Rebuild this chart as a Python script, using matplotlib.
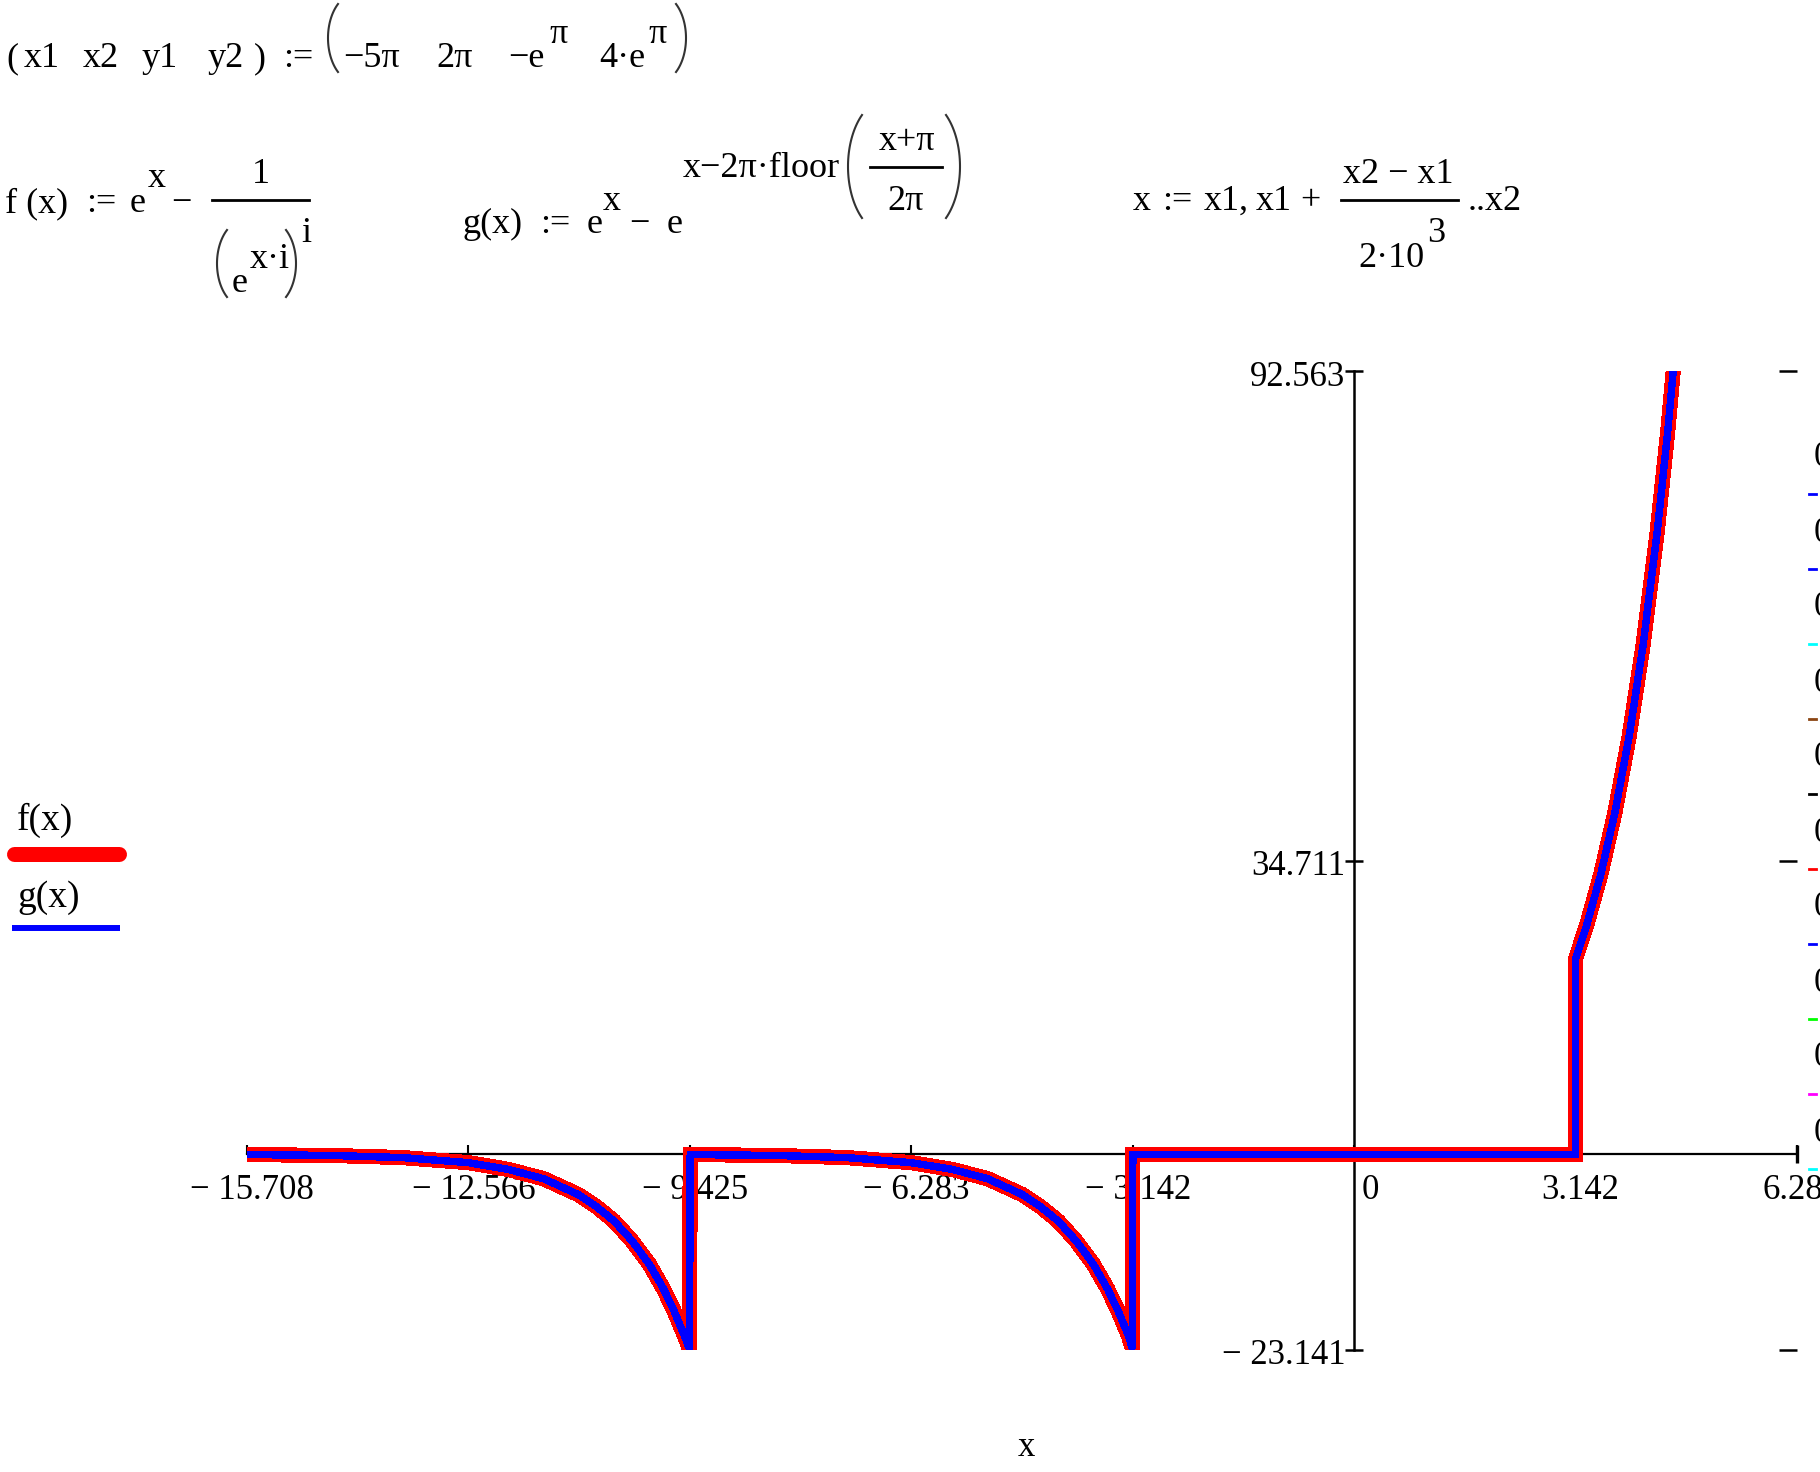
import numpy as np
import matplotlib
matplotlib.use("Agg")
import matplotlib.pyplot as plt

FONT = ["Liberation Serif", "DejaVu Serif"]
plt.rcParams["font.family"] = FONT

# plot window
x1, x2 = -15.708, 6.283
y1, y2 = -23.141, 92.563

x_ticks = [-15.708, -12.566, -9.425, -6.283, -3.142, 0.0, 3.142, 6.283]
x_tick_labels = ["\u2212 15.708", "\u2212 12.566", "\u2212 9.425", "\u2212 6.283",
                 "\u2212 3.142", "0", "3.142", "6.283"]
y_ticks = [92.563, 34.711, -23.141]
y_tick_labels = ["92.563", "34.711", "\u2212 23.141"]

# points (f and g sit on top of each other)
x_pts = [-15.708, -14.5, -13.5, -12.566, -12.0, -11.5, -11.0, -10.75, -10.5, -10.25,
         -10.0, -9.8, -9.65, -9.5, -9.43,
         -9.42, -8.2, -7.2, -6.283, -5.7, -5.2, -4.7, -4.45, -4.2, -3.95,
         -3.7, -3.5, -3.35, -3.2, -3.147,
         -3.14, 0.0, 3.14,
         3.142, 3.3, 3.5, 3.7, 3.9, 4.1, 4.3, 4.45, 4.6]
f_pts = [-0.04, -0.15, -0.4, -1.0, -1.8, -2.9, -4.8, -6.2, -7.9, -10.2,
         -13.0, -15.9, -18.5, -21.5, -23.0,
         -0.04, -0.15, -0.4, -1.0, -1.8, -2.9, -4.8, -6.2, -7.9, -10.2,
         -13.0, -15.9, -18.5, -21.5, -23.0,
         0.0, 0.0, 0.0,
         23.1, 27.1, 33.1, 40.4, 49.3, 60.2, 73.6, 85.5, 99.3]
g_pts = [-0.04, -0.15, -0.4, -1.0, -1.8, -2.9, -4.8, -6.2, -7.9, -10.2,
         -13.0, -15.9, -18.5, -21.5, -23.0,
         -0.04, -0.15, -0.4, -1.0, -1.8, -2.9, -4.8, -6.2, -7.9, -10.2,
         -13.0, -15.9, -18.5, -21.5, -23.0,
         0.0, 0.0, 0.0,
         23.1, 27.1, 33.1, 40.4, 49.3, 60.2, 73.6, 85.5, 99.3]

legend_labels = ["f(x)", "g(x)"]
# little coloured trace marks cut off at the right edge
edge_colors = ["#0000ff", "#0000ff", "#00ffff", "#8b4513", "#000000",
               "#ff0000", "#0000ff", "#00ff00", "#ff00ff", "#00ffff"]

W, H = 1820, 1472
fig = plt.figure(figsize=(W / 100, H / 100), dpi=100)

# ---- main plot ----
ax = fig.add_axes([247 / W, 122 / H, 1550 / W, 979 / H])
ax.set_xlim(x1, x2)
ax.set_ylim(y1, y2)
ax.axis("off")

ax.plot([x1, x2], [0, 0], color="k", lw=1.6, zorder=2, clip_on=False)
ax.plot([0, 0], [y1, y2], color="k", lw=1.8, zorder=2, clip_on=False)
ax.plot(x_ticks, [0] * len(x_ticks), ls="none", marker=2, ms=6.5, mew=1.5,
        color="k", clip_on=False, zorder=2)
ax.plot([x2], [0], ls="none", marker="|", ms=13, mew=2.4, color="k", clip_on=False)
ax.plot([0] * len(y_ticks), y_ticks, ls="none", marker="_", ms=13, mew=1.8,
        color="k", clip_on=False)
ax.plot([x2] * len(y_ticks), y_ticks, ls="none", marker=0, ms=13, mew=1.8,
        color="k", clip_on=False)

for xv, lab in zip(x_ticks, x_tick_labels):
    if xv == 0:
        ax.annotate(lab, (xv, 0), xytext=(7, -36), textcoords="offset pixels",
                    ha="left", va="center", fontsize=25, zorder=1, annotation_clip=False)
    else:
        ax.annotate(lab, (xv, 0), xytext=(5, -36), textcoords="offset pixels",
                    ha="center", va="center", fontsize=25, zorder=1, annotation_clip=False)
for yv, lab in zip(y_ticks, y_tick_labels):
    ax.annotate(lab, (0, yv), xytext=(-9, -6), textcoords="offset pixels",
                ha="right", va="center", fontsize=25, zorder=1, annotation_clip=False)
ax.annotate("x", (0.5, 0), xycoords="axes fraction", xytext=(4, -97),
            textcoords="offset pixels", ha="center", va="center", fontsize=25)

ax.plot(x_pts, f_pts, color="#ff0000", lw=10.2, solid_joinstyle="miter",
        solid_capstyle="butt", antialiased=False, zorder=3)
ax.plot(x_pts, g_pts, color="#0000ff", lw=4.6, solid_joinstyle="miter",
        solid_capstyle="butt", antialiased=False, zorder=4)

# ---- worksheet text, in pixel coordinates ----
ov = fig.add_axes([0, 0, 1, 1], zorder=5)
ov.set_xlim(0, W)
ov.set_ylim(H, 0)
ov.axis("off")
ov.patch.set_alpha(0)


def put(x, y, s, size=26, ha="left", va="baseline"):
    ov.text(x, y, s, fontsize=size, ha=ha, va=va, color="k")


def paren(x, top, bot, left=True, w=10):
    # tall thin bracket drawn as a piece of an ellipse
    a = np.radians(50)
    rx = w / (1 - np.cos(a))
    ry = (bot - top) / (2 * np.sin(a))
    cy = (top + bot) / 2
    t = np.linspace(-a, a, 40)
    if left:
        xs = x + rx - rx * np.cos(t)
    else:
        xs = x + w - rx + rx * np.cos(t)
    ov.plot(xs, cy + ry * np.sin(t), color="#333333", lw=1.5)


def bar(xa, xb, y):
    ov.plot([xa, xb], [y, y], color="k", lw=2)


# (x1 x2 y1 y2) := (-5pi 2pi -e^pi 4 e^pi)
put(6, 67, "(")
put(24, 67, "x1")
put(83, 67, "x2")
put(142, 67, "y1")
put(208, 67, "y2")
put(254, 67, ")")
put(283, 67, ":=")
paren(328, 4, 72, True, w=10)
put(343, 67, "\u22125\u03c0")
put(436, 67, "2\u03c0")
put(508, 67, "\u2212e")
put(549, 43, "\u03c0")
put(599, 67, "4\u00b7e")
put(648, 43, "\u03c0")
paren(676, 4, 72, False, w=10)

# f(x)
put(5, 212, "f (x)")
put(86, 212, ":=")
put(130, 212, "e")
put(148, 187, "x")
put(171, 212, "\u2212")
put(261, 183, "1", ha="center")
bar(212, 309, 200)
paren(217, 230, 297, True, w=10)
put(232, 292, "e")
put(250, 268, "x\u00b7i")
paren(286, 230, 297, False, w=10)
put(301, 242, "i")

# g(x)
put(463, 233, "g(x)")
put(540, 233, ":=")
put(587, 233, "e")
put(603, 210, "x")
put(629, 233, "\u2212")
put(667, 233, "e")
put(683, 177, "x\u22122\u03c0\u00b7floor")
paren(848, 115, 218, True, w=14)
put(907, 150, "x+\u03c0", ha="center")
bar(870, 942, 167)
put(906, 210, "2\u03c0", ha="center")
paren(946, 115, 218, False, w=14)

# x := x1, x1 + (x2-x1)/(2 10^3) .. x2
put(1133, 210, "x")
put(1162, 210, ":=")
put(1204, 210, "x1,")
put(1256, 210, "x1")
put(1300, 210, "+")
put(1398, 183, "x2 \u2212 x1", ha="center")
bar(1341, 1458, 200)
put(1358, 267, "2\u00b710")
put(1427, 242, "3")
put(1468, 210, "..x2")

# legend
ov.plot([13.5, 118.5], [854, 854], color="#ff0000", lw=10.8, solid_capstyle="round")
ov.plot([12, 120], [928, 928], color="#0000ff", lw=4.3, solid_capstyle="butt")
put(17, 830, legend_labels[0], size=27)
put(17, 907, legend_labels[1], size=27)

# cut-off trace labels at the right edge
for i, c in enumerate(edge_colors):
    put(1814, 458 + 75 * i, "0", size=25, va="center")
    ov.plot([1809, 1816], [494 + 75 * i] * 2, color=c, lw=2)

fig.savefig("out.png", dpi=100, facecolor="white")
